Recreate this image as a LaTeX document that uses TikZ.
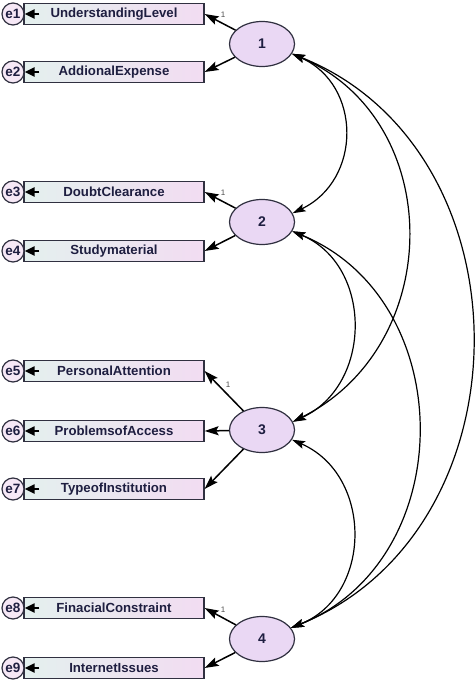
\documentclass[tikz,border=0pt]{standalone}
\usepackage{fontspec}
\setmainfont{Liberation Sans}
\usetikzlibrary{arrows.meta,shapes.geometric}
\definecolor{txt}{HTML}{1E1E40}
\definecolor{boxL}{HTML}{E4F0EE}
\definecolor{boxR}{HTML}{F2DCF2}
\definecolor{latfill}{HTML}{EAD8F4}
\definecolor{errfill}{HTML}{F6E8F6}
\definecolor{edge}{HTML}{303040}
\begin{document}
\begin{tikzpicture}[x=1pt,y=-1pt,
  obs/.style={draw=edge, line width=1.2pt, minimum width=180pt, minimum height=21pt, inner sep=0pt,
    left color=boxL, right color=boxR, text=txt, font=\bfseries\fontsize{13.2}{15}\selectfont},
  err/.style={circle, draw=edge, line width=1.2pt, minimum size=22pt, inner sep=0pt, fill=errfill,
    text=txt, font=\bfseries\fontsize{13.5}{15}\selectfont},
  lat/.style={ellipse, draw=edge, line width=1.2pt, minimum width=65pt, minimum height=45pt,
    fill=latfill, text=txt, font=\bfseries\fontsize{14}{16}\selectfont},
  load/.style={-{Stealth[length=14pt,width=9pt,inset=2.5pt]}, line width=1.5pt, draw=black},
  cov/.style={{Stealth[length=13pt,width=8pt,inset=2.5pt]}-{Stealth[length=13pt,width=8pt,inset=2.5pt]}, line width=1.2pt, draw=black},
  etip/.style={-{Triangle[length=10pt,width=9pt]}, line width=2pt, draw=black},
  one/.style={font=\fontsize{8}{9}\selectfont, text=black!70, inner sep=0pt},
]
\useasboundingbox (0,0) rectangle (474,682);

% observed boxes
\node[obs] (b1) at (114,14)  {UnderstandingLevel};
\node[obs] (b2) at (114,72)  {AddionalExpense};
\node[obs] (b3) at (114,192) {DoubtClearance};
\node[obs] (b4) at (114,251) {Studymaterial};
\node[obs] (b5) at (114,371) {PersonalAttention};
\node[obs] (b6) at (114,431) {ProblemsofAccess};
\node[obs] (b7) at (114,489) {TypeofInstitution};
\node[obs] (b8) at (114,608) {FinacialConstraint};
\node[obs] (b9) at (114,668) {InternetIssues};

% error circles
\foreach \i/\y in {1/14,2/72,3/192,4/251,5/371,6/431,7/489,8/608,9/668}{
  \node[err] (e\i) at (13,\y) {e\i};
  \draw[etip] ([xshift=16pt]b\i.west) -- (e\i);
}

% latent ellipses
\node[lat] (L1) at (262,44)  {1};
\node[lat] (L2) at (262,222) {2};
\node[lat] (L3) at (262,430) {3};
\node[lat] (L4) at (262,639) {4};

% loadings
\draw[load] (L1) -- (b1.east);
\draw[load] (L1) -- (b2.east);
\draw[load] (L2) -- (b3.east);
\draw[load] (L2) -- (b4.east);
\draw[load] (L3) -- (b5.east);
\draw[load] (L3) -- (b6.east);
\draw[load] (L3) -- (b7.east);
\draw[load] (L4) -- (b8.east);
\draw[load] (L4) -- (b9.east);

% fixed loadings
\node[one] (o1) at (223,15)  {1};
\node[one] (o2) at (223,193) {1};
\node[one] (o3) at (228,385) {1};
\node[one] (o4) at (223,610) {1};

% covariances
\draw[cov] (L1.-18) .. controls (362,85)  and (362,180) .. (L2.16);
\draw[cov] (L1.-18) .. controls (446,120) and (446,345) .. (L3.15);
\draw[cov] (L1.-18) .. controls (532,150) and (532,530) .. (L4.21);
\draw[cov] (L2.-17) .. controls (373,265) and (373,385) .. (L3.15);
\draw[cov] (L2.-17) .. controls (460,300) and (460,560) .. (L4.21);
\draw[cov] (L3.-18) .. controls (373,475) and (373,595) .. (L4.21);
\end{tikzpicture}
\end{document}
